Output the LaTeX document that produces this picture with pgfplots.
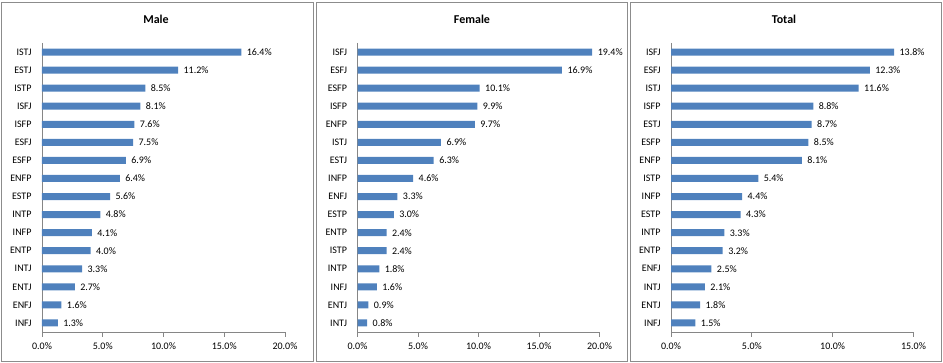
\documentclass[border=0pt]{standalone}
\usepackage{pgfplots}
\pgfplotsset{compat=1.18}
\usepackage{fontspec}
\setmainfont{Carlito}
\definecolor{barblue}{HTML}{4F81BD}
\definecolor{axgray}{HTML}{868686}
\definecolor{boxgray}{HTML}{8C8C8C}
\pgfplotsset{panel/.style={
  xbar, scale only axis, height=289pt, bar width=7pt,
  y dir=reverse, ymin=-0.5, ymax=15.5, xmin=0,
  axis lines*=left, axis line style={axgray, line width=0.8pt},
  clip=false,
  ytick={0,...,15}, ytick style={draw=none},
  minor ytick={-0.5,0.5,...,15.5}, minor tick length=5pt,
  minor tick style={axgray, line width=0.8pt},
  xtick style={axgray, line width=0.8pt}, major tick length=5pt,
  tick align=outside,
  ticklabel style={font=\fontsize{10}{11}\selectfont, text=black},
  yticklabel style={xshift=-2pt},
  xticklabel style={yshift=-2pt},
  /pgf/number format/assume math mode=true,
  scaled x ticks=false,
  xticklabel={\pgfmathprintnumber[fixed,fixed zerofill,precision=1]{\tick}\%},
  point meta=x,
  nodes near coords={\pgfmathprintnumber[fixed,fixed zerofill,precision=1]{\pgfplotspointmeta}\%},
  nodes near coords align={horizontal},
  every node near coord/.append style={font=\fontsize{10}{11}\selectfont, text=black, xshift=2pt},
}}
\begin{document}
\begin{tikzpicture}
\path[use as bounding box] (0pt,0pt) rectangle (943pt,363pt);
\draw[boxgray, line width=0.8pt] (1pt,2pt) rectangle (313pt,361pt);
\draw[boxgray, line width=0.8pt] (316pt,2pt) rectangle (627pt,361pt);
\draw[boxgray, line width=0.8pt] (630pt,2pt) rectangle (941pt,361pt);
\node[font=\bfseries\fontsize{12}{14}\selectfont] at (156pt,344pt) {Male};
\node[font=\bfseries\fontsize{12}{14}\selectfont] at (472pt,344pt) {Female};
\node[font=\bfseries\fontsize{12}{14}\selectfont] at (784pt,344pt) {Total};

\begin{axis}[panel, at={(42pt,31pt)}, anchor=south west, width=243pt,
  xmax=20, xtick={0,5,10,15,20},
  yticklabels={ISTJ,ESTJ,ISTP,ISFJ,ISFP,ESFJ,ESFP,ENFP,ESTP,INTP,INFP,ENTP,INTJ,ENTJ,ENFJ,INFJ}]
\addplot[fill=barblue, draw=none] coordinates {
(16.4,0) (11.2,1) (8.5,2) (8.1,3) (7.6,4) (7.5,5) (6.9,6) (6.4,7)
(5.6,8) (4.8,9) (4.1,10) (4.0,11) (3.3,12) (2.7,13) (1.6,14) (1.3,15)};
\end{axis}

\begin{axis}[panel, at={(357.5pt,31pt)}, anchor=south west, width=242pt,
  xmax=20, xtick={0,5,10,15,20},
  yticklabels={ISFJ,ESFJ,ESFP,ISFP,ENFP,ISTJ,ESTJ,INFP,ENFJ,ESTP,ENTP,ISTP,INTP,INFJ,ENTJ,INTJ}]
\addplot[fill=barblue, draw=none] coordinates {
(19.4,0) (16.9,1) (10.1,2) (9.9,3) (9.7,4) (6.9,5) (6.3,6) (4.6,7)
(3.3,8) (3.0,9) (2.4,10) (2.4,11) (1.8,12) (1.6,13) (0.9,14) (0.8,15)};
\end{axis}

\begin{axis}[panel, at={(671pt,31pt)}, anchor=south west, width=242.5pt,
  xmax=15, xtick={0,5,10,15},
  yticklabels={ISFJ,ESFJ,ISTJ,ISFP,ESTJ,ESFP,ENFP,ISTP,INFP,ESTP,INTP,ENTP,ENFJ,INTJ,ENTJ,INFJ}]
\addplot[fill=barblue, draw=none] coordinates {
(13.8,0) (12.3,1) (11.6,2) (8.8,3) (8.7,4) (8.5,5) (8.1,6) (5.4,7)
(4.4,8) (4.3,9) (3.3,10) (3.2,11) (2.5,12) (2.1,13) (1.8,14) (1.5,15)};
\end{axis}
\end{tikzpicture}
\end{document}
